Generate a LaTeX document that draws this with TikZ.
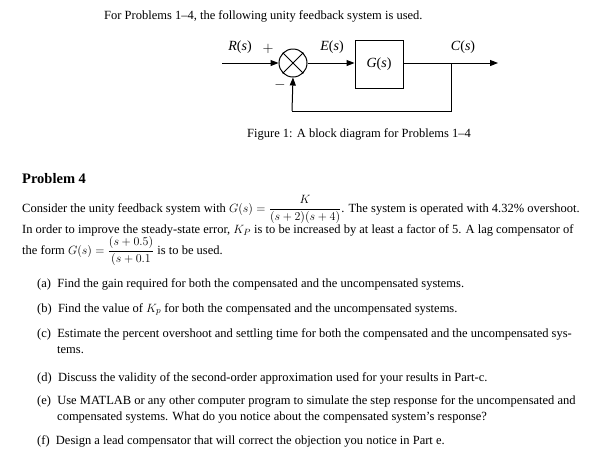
\documentclass[tikz,border=0pt]{standalone}
\usepackage{amsmath}
\usepackage{fontspec}
\setmainfont{Liberation Serif}
\usetikzlibrary{arrows.meta}
\begin{document}
\begin{tikzpicture}[x=1pt,y=-1pt,
  txt/.style={anchor=base west,inner sep=0pt,font=\fontsize{12.5}{14}\selectfont},
  lbl/.style={inner sep=0pt,font=\fontsize{14}{16}\selectfont},
  sig/.style={line width=1pt,-{Triangle[length=8pt,width=6pt]}},
  wire/.style={line width=1pt}]
\useasboundingbox (0,0) rectangle (606,451);
\node[txt] (t0) at (104,19) {For Problems 1--4, the following unity feedback system is used.};
% block diagram
\coordinate (in) at (222,63);
\node[draw,circle,line width=1pt,minimum size=28pt,inner sep=0pt] (sum) at (293,63) {};
\draw[line width=1pt] (sum.north west)--(sum.south east) (sum.north east)--(sum.south west);
\node[draw,line width=1pt,minimum width=48pt,minimum height=48pt,lbl] (G) at (379,64) {\textit{G}(\textit{s})};
\coordinate (out) at (498,63);
\coordinate (tap) at (451,63);
\coordinate (fb) at (451,111);
\coordinate (fb2) at (292,111);
\draw[sig] (in)--(sum.west);
\draw[sig] (sum.east)--(G.west |- sum.east);
\draw[sig] (G.east |- sum.east)--(out);
\draw[wire] (tap)--(fb)--(fb2);
\draw[sig] (fb2)--(sum.south);
\node[lbl] (R) at (240,47) {\textit{R}(\textit{s})};
\node[lbl] (p) at (268,49) {$+$};
\node[lbl] (m) at (280,85) {$-$};
\node[lbl] (E) at (332,47) {\textit{E}(\textit{s})};
\node[lbl] (C) at (463,47) {\textit{C}(\textit{s})};
\node[txt] (cap) at (247,137) {Figure 1: A block diagram for Problems 1--4};
\node[anchor=base west,inner sep=0pt,font=\fontsize{14.5}{16}\bfseries] (h) at (22,183) {Problem 4};
\node[txt] (l1) at (22,212) {Consider the unity feedback system with $G(s)=\dfrac{K}{(s+2)(s+4)}$. The system is operated with 4.32\% overshoot.};
\node[txt] (l2) at (22,233) {In order to improve the steady-state error, $K_P$ is to be increased by at least a factor of 5. A lag compensator of};
\node[txt] (l3) at (22,254) {the form $G(s)=\dfrac{(s+0.5)}{(s+0.1}$ is to be used.};
\node[txt] (a) at (37,287) {(a)\ \ Find the gain required for both the compensated and the uncompensated systems.};
\node[txt] (b) at (37,312) {(b)\ \ Find the value of $K_p$ for both the compensated and the uncompensated systems.};
\node[txt] (c) at (37,337) {(c)\ \ Estimate the percent overshoot and settling time for both the compensated and the uncompensated sys-};
\node[txt] (c2) at (57,353) {tems.};
\node[txt] (d) at (37,381) {(d)\ \ Discuss the validity of the second-order approximation used for your results in Part-c.};
\node[txt] (e) at (37,404) {(e)\ \ Use MATLAB or any other computer program to simulate the step response for the uncompensated and};
\node[txt] (e2) at (57,420) {compensated systems. What do you notice about the compensated system's response?};
\node[txt] (f) at (37,444) {(f)\ \ Design a lead compensator that will correct the objection you notice in Part e.};
\end{tikzpicture}
\end{document}
